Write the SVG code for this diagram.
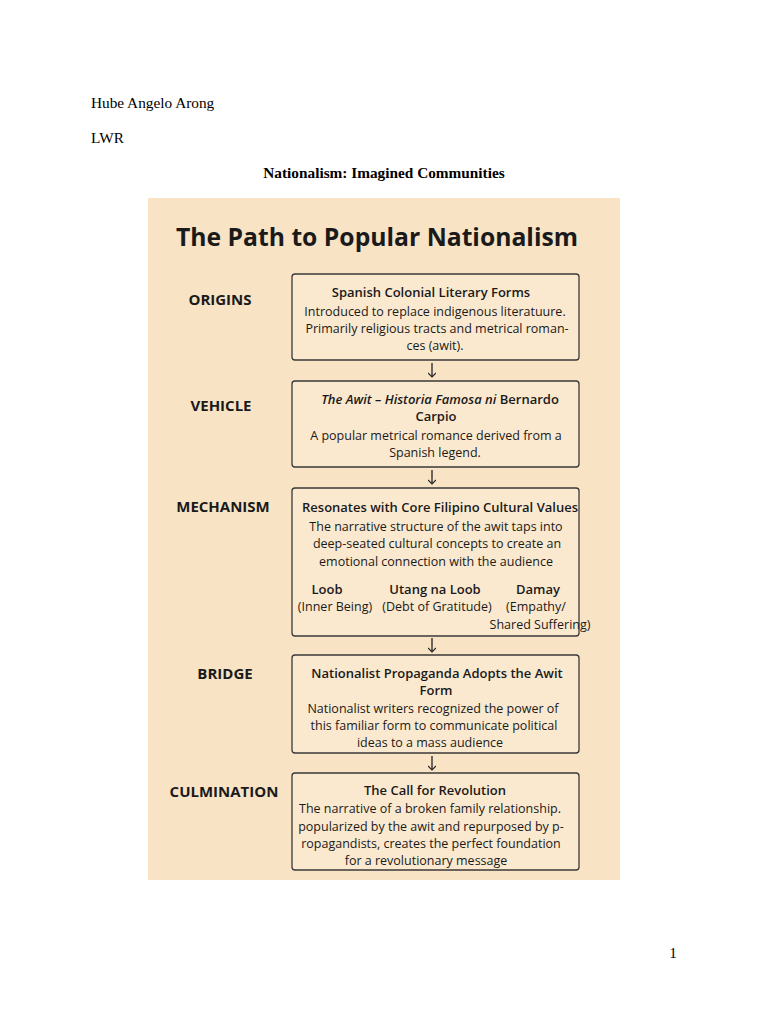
<svg xmlns="http://www.w3.org/2000/svg" width="768" height="1024" viewBox="0 0 768 1024">
<style>
.doc{font-family:"Liberation Serif",serif;font-size:15.3px;fill:#000}
.t{font-family:"Open Sans","Noto Sans",sans-serif;fill:#1a1a1a;text-anchor:middle}
.lab{font-size:15px;font-weight:bold}
.h{font-size:13px;font-weight:600}
.b{font-size:12.5px}
.box{fill:#fbe9cf;stroke:#3a3a3a;stroke-width:1.3}
.c{stroke:#222;stroke-width:1.3;fill:none}
</style>
<defs><marker id="ah" markerWidth="8" markerHeight="8" refX="7" refY="4" orient="auto" markerUnits="userSpaceOnUse"><path d="M3,0 L7,4 L3,8" fill="none" stroke="#222" stroke-width="1.2"/></marker></defs>
<rect width="768" height="1024" fill="#fff"/>
<text class="doc" x="91" y="108">Hube Angelo Arong</text>
<text class="doc" x="91" y="143">LWR</text>
<text class="doc" x="384" y="178" text-anchor="middle" font-weight="bold">Nationalism: Imagined Communities</text>
<text class="doc" x="677" y="958" text-anchor="end" font-size="13">1</text>
<rect x="148" y="198" width="472" height="682" fill="#f8e3c5"/>
<text class="t" x="377" y="246" font-size="25" font-weight="bold" textLength="402" lengthAdjust="spacingAndGlyphs">The Path to Popular Nationalism</text>
<g id="labels">
<text class="t lab" x="220" y="305">ORIGINS</text>
<text class="t lab" x="221" y="411">VEHICLE</text>
<text class="t lab" x="223" y="512">MECHANISM</text>
<text class="t lab" x="225" y="679">BRIDGE</text>
<text class="t lab" x="224" y="797">CULMINATION</text>
</g>
<g id="n1"><rect class="box" x="292" y="274" width="287" height="86" rx="3"/>
<text class="t h" x="431" y="297">Spanish Colonial Literary Forms</text>
<text class="t b" x="435" y="316">Introduced to replace indigenous literatuure.</text>
<text class="t b" x="437" y="333">Primarily religious tracts and metrical roman-</text>
<text class="t b" x="435" y="350">ces (awit).</text></g>
<g id="n2"><rect class="box" x="292" y="381" width="287" height="86" rx="3"/>
<text class="t h" x="440" y="404"><tspan font-style="italic">The Awit – Historia Famosa ni</tspan> Bernardo</text>
<text class="t h" x="436" y="421">Carpio</text>
<text class="t b" x="436" y="440">A popular metrical romance derived from a</text>
<text class="t b" x="435" y="457">Spanish legend.</text></g>
<g id="n3"><rect class="box" x="292" y="488" width="287" height="148" rx="3"/>
<text class="t h" x="440" y="512">Resonates with Core Filipino Cultural Values</text>
<text class="t b" x="436" y="531">The narrative structure of the awit taps into</text>
<text class="t b" x="437" y="548">deep-seated cultural concepts to create an</text>
<text class="t b" x="436" y="566">emotional connection with the audience</text>
<text class="t h" x="327" y="594">Loob</text>
<text class="t h" x="435" y="594">Utang na Loob</text>
<text class="t h" x="538" y="594">Damay</text>
<text class="t b" x="335" y="611" font-size="12">(Inner Being)</text>
<text class="t b" x="437" y="611" font-size="12">(Debt of Gratitude)</text>
<text class="t b" x="536" y="611" font-size="12">(Empathy/</text>
<text class="t b" x="540" y="629" font-size="11.5">Shared Suffering)</text></g>
<g id="n4"><rect class="box" x="292" y="655" width="287" height="98" rx="3"/>
<text class="t h" x="437" y="678">Nationalist Propaganda Adopts the Awit</text>
<text class="t h" x="436" y="695">Form</text>
<text class="t b" x="433" y="713">Nationalist writers recognized the power of</text>
<text class="t b" x="434" y="730">this familiar form to communicate political</text>
<text class="t b" x="430" y="747">ideas to a mass audience</text></g>
<g id="n5"><rect class="box" x="292" y="773" width="287" height="97" rx="3"/>
<text class="t h" x="435" y="795">The Call for Revolution</text>
<text class="t b" x="430" y="813">The narrative of a broken family relationship.</text>
<text class="t b" x="431" y="831">popularized by the awit and repurposed by p-</text>
<text class="t b" x="431" y="848">ropagandists, creates the perfect foundation</text>
<text class="t b" x="426" y="865">for a revolutionary message</text></g>
<g id="connectors">
<line class="c" x1="432" y1="363" x2="432" y2="377" marker-end="url(#ah)"/>
<line class="c" x1="432" y1="470" x2="432" y2="484" marker-end="url(#ah)"/>
<line class="c" x1="432" y1="638" x2="432" y2="652" marker-end="url(#ah)"/>
<line class="c" x1="432" y1="756" x2="432" y2="770" marker-end="url(#ah)"/>
</g>
</svg>
